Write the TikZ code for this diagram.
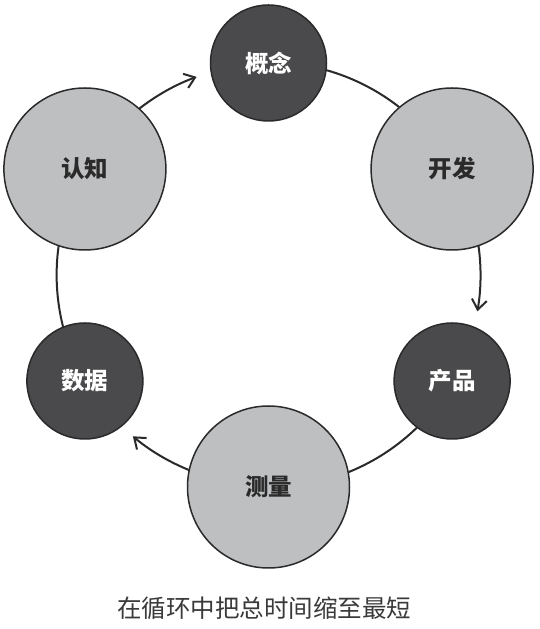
\documentclass[tikz,border=0pt]{standalone}
\usepackage{fontspec}
\newfontfamily\cjk{Noto Sans CJK SC}
\usetikzlibrary{arrows.meta}
\definecolor{darkfill}{HTML}{4A4A4C}
\definecolor{lightfill}{HTML}{BEBFC1}
\definecolor{edge}{HTML}{2A2A2A}
\definecolor{captext}{HTML}{3A3A3A}
\tikzset{
  bubble/.style={circle, draw=edge, line width=1.5pt, outer sep=0pt, inner sep=0pt, font=\cjk\bfseries\fontsize{23.5}{25}\selectfont},
  darkbubble/.style={bubble, fill=darkfill, text=white, minimum size=116pt},
  lightbubble/.style={bubble, fill=lightfill, text=edge, minimum size=162pt},
  conn/.style={draw=edge, line width=2pt},
  arrowconn/.style={conn, -{Straight Barb[length=10pt,width=15pt,line width=2pt]}},
  caption/.style={font=\cjk\fontsize{24.5}{26}\selectfont, text=captext}
}
\begin{document}
\begin{tikzpicture}[x=1pt,y=1pt]
\useasboundingbox (0,0) rectangle (540,629);
\fill[white] (0,0) rectangle (540,629);
\begin{scope}[shift={(268.5,354)}]
  \coordinate (ring) at (0,0);
  \node[darkbubble]  (gn) at (90:212)   {概念};
  \node[lightbubble] (kf) at (30:212)   {开发};
  \node[darkbubble]  (cp) at (-30:212)  {产品};
  \node[lightbubble] (cl) at (-90:212)  {测量};
  \node[darkbubble]  (sj) at (-150:212) {数据};
  \node[lightbubble] (rz) at (150:212)  {认知};
\end{scope}
% connectors along the ring (centre (268.5,354), radius 212)
\draw[conn] (gn.-7.86) arc[start angle=74.28, end angle=52.03, radius=212pt];
\draw[arrowconn] (kf.-71.01) arc[start angle=7.97, end angle=-9.88, radius=212pt];
\draw[conn] (cp.-127.86) arc[start angle=-45.72, end angle=-67.97, radius=212pt];
\draw[arrowconn] (cl.168.99) arc[start angle=-112.03, end angle=-129.88, radius=212pt];
\draw[conn] (sj.112.14) arc[start angle=-165.72, end angle=-187.97, radius=212pt];
\draw[arrowconn] (rz.48.99) arc[start angle=127.97, end angle=110.12, radius=212pt];
\node[caption] (cap) at (264,21) {在循环中把总时间缩至最短};
\end{tikzpicture}
\end{document}
